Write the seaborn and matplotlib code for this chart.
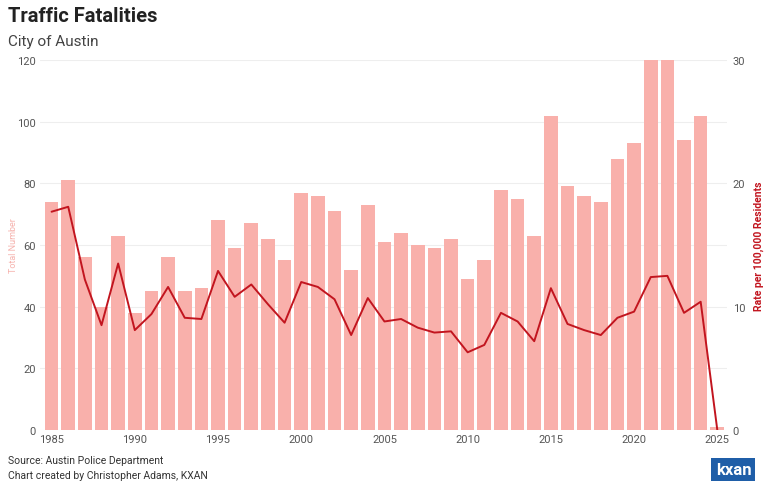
import numpy as np
import pandas as pd
import seaborn as sns
import matplotlib.pyplot as plt

# Traffic fatalities, City of Austin
years = list(range(1985, 2026))
total_number = [74, 81, 56, 40, 63, 38, 45, 56, 45, 46,
                68, 59, 67, 62, 55, 77, 76, 71, 52, 73,
                61, 64, 60, 59, 62, 49, 55, 78, 75, 63,
                102, 79, 76, 74, 88, 93, 121, 120, 94, 102,
                1]
rate_per_100k = [17.7, 18.1, 12.2, 8.5, 13.5, 8.1, 9.4, 11.6, 9.1, 9.0,
                 12.9, 10.8, 11.8, 10.2, 8.7, 12.0, 11.6, 10.6, 7.7, 10.7,
                 8.8, 9.0, 8.3, 7.9, 8.0, 6.3, 6.9, 9.5, 8.8, 7.2,
                 11.5, 8.6, 8.1, 7.7, 9.1, 9.6, 12.4, 12.5, 9.5, 10.4,
                 0.0]
tick_years = [1985, 1990, 1995, 2000, 2005, 2010, 2015, 2020, 2025]

df = pd.DataFrame({'Year': years, 'Total': total_number, 'Rate': rate_per_100k})

BAR = '#f9b0ab'
LINE = '#c2151f'
TXT = '#555555'

sns.set_theme(style='white')
plt.rcParams['font.family'] = ['Roboto', 'DejaVu Sans']

fig = plt.figure(figsize=(7.68, 4.89), dpi=100)
ax = fig.add_axes([0.052, 0.1186, 0.895, 0.7566])

sns.barplot(data=df, x='Year', y='Total', native_scale=True, width=0.82,
            color=BAR, saturation=1, edgecolor='none', ax=ax)
ax.set_ylim(0, 120)
ax.set_xlim(1984.3, 2025.6)
ax.set_yticks(range(0, 121, 20))
ax.yaxis.grid(True, color='#eeeeee', linewidth=0.8)
ax.set_axisbelow(True)
ax.set_xticks(tick_years)
ax.set_xticklabels([str(y) for y in tick_years])
ax.tick_params(axis='both', labelsize=8, colors=TXT, length=0, pad=3)
ax.set_xlabel('')
ax.set_ylabel('Total Number', fontsize=6.5, color='#f6b3ae')
ax.yaxis.set_label_coords(-0.032, 0.5)
for s in ax.spines.values():
    s.set_visible(False)

ax2 = ax.twinx()
sns.lineplot(data=df, x='Year', y='Rate', color=LINE, linewidth=1.4, ax=ax2)
ax2.set_ylim(0, 30)
ax2.set_yticks([0, 10, 20, 30])
ax2.tick_params(axis='y', labelsize=8, colors=TXT, length=0, pad=4)
ax2.set_ylabel('Rate per 100,000 Residents', fontsize=7.5, color=LINE,
               fontweight='bold', labelpad=6)
ax2.grid(False)
for s in ax2.spines.values():
    s.set_visible(False)

fig.text(0.01, 0.985, 'Traffic Fatalities', fontsize=14.5, fontweight='bold',
         color='#222222', va='top')
fig.text(0.01, 0.928, 'City of Austin', fontsize=11, color='#444444', va='top')
fig.text(0.01, 0.052, 'Source: Austin Police Department', fontsize=7.5, color='#333333')
fig.text(0.01, 0.020, 'Chart created by Christopher Adams, KXAN', fontsize=7.5, color='#333333')
fig.text(0.955, 0.038, 'kxan', fontsize=12, fontweight='bold', color='white',
         ha='center', va='center',
         bbox=dict(boxstyle='square,pad=0.25', facecolor='#1f5ea8', edgecolor='none'))

fig.savefig('out.png', dpi=100)
